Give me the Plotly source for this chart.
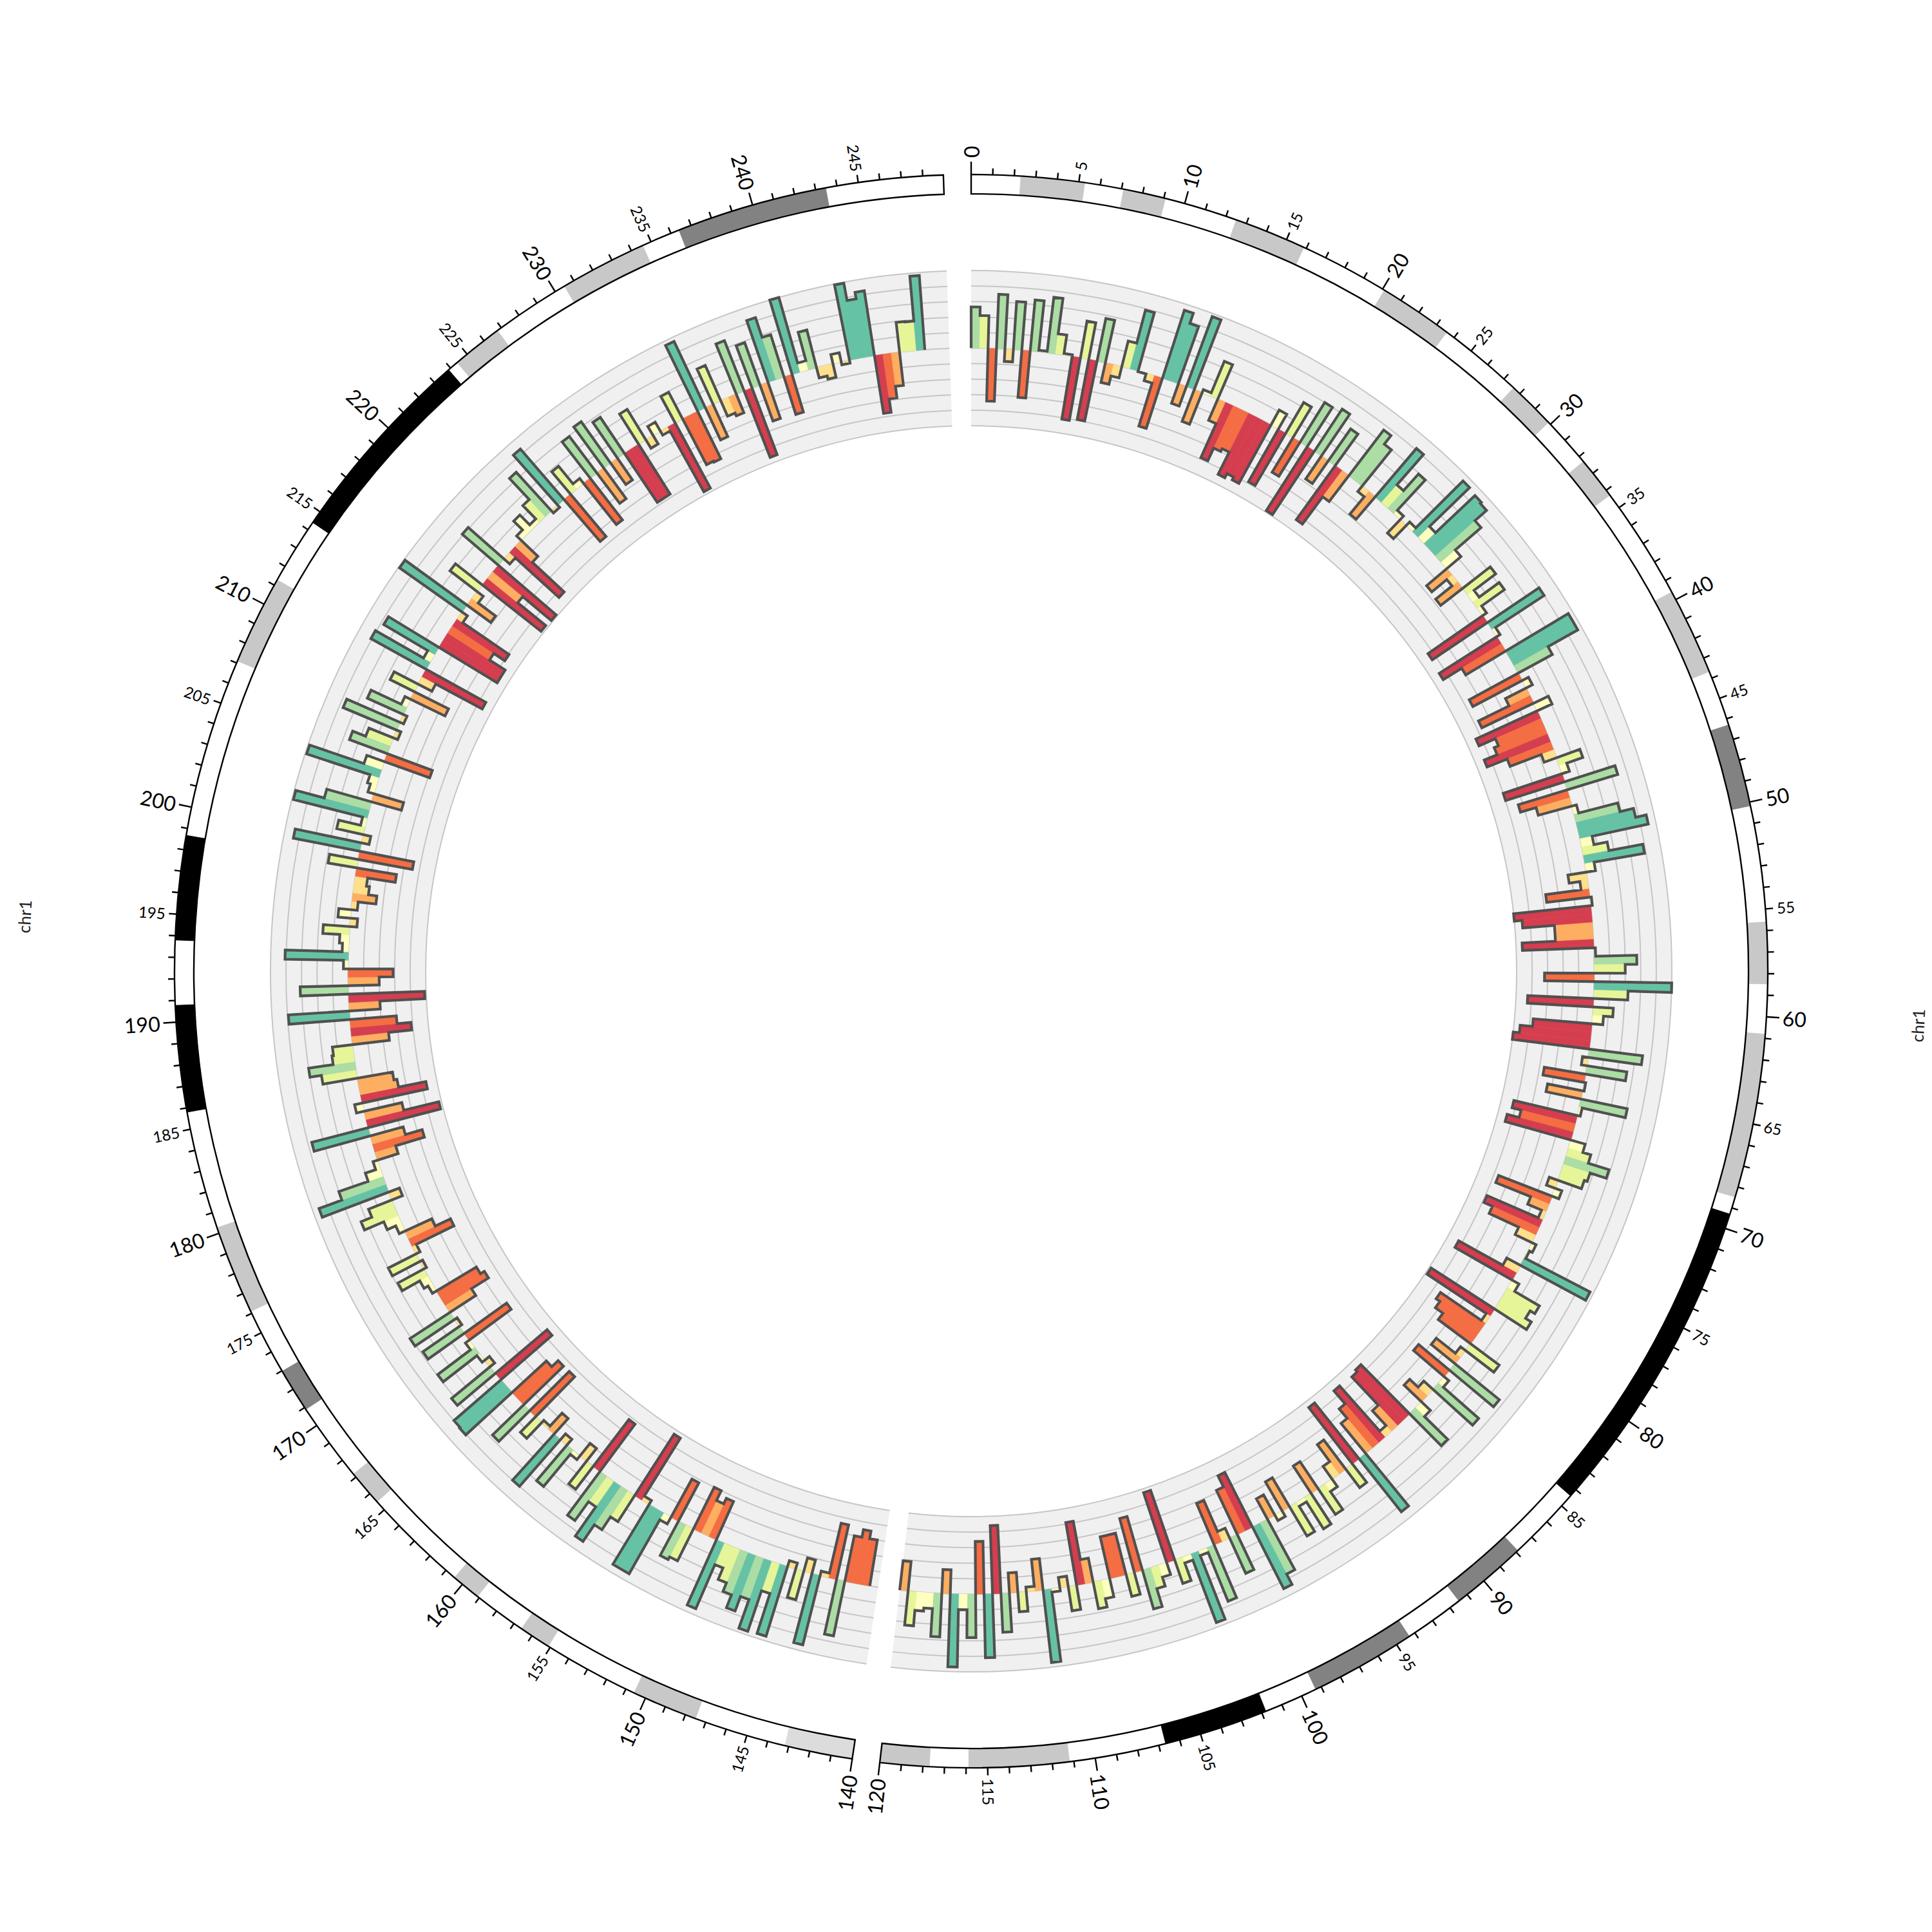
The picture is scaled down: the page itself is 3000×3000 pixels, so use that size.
import math
import plotly.graph_objects as go

# ---------------- data ----------------
chrom_name = "chr1"
seg_ranges = [(0.0, 120.0), (140.0, 248.956422)]
seg_data_start = [0.0, 140.5]      # first bin start of each segment's data
bin_size = 0.5
value_min, value_max = -5.0, 5.0

# values per 0.5 Mb bin, segment 1 (0-120 Mb), 10 bins (5 Mb) per row
seg1_values = [
    2.65, 2.1, -3.4, 3.5, -0.8, 3.1, -3.05, 3.3, 0.1, 3.6,
    1.3, 0.1, -4.1, 2.4, -3.95, 2.8, -1.3, -0.75, 1.7, 3.9,
    -0.05, -0.5, -3.4, 4.6, 3.9, -1.35, 4.8, -2.2, 0.2, 2.4,
    -1.5, -3.9, -3.0, -2.8, -4.4, -4.1, -4.3, 1.1, -3.9, 2.3,
    -2.6, 3.0, -4.9, 3.25, -1.8, 2.5, -4.3, -2.1, 3.7, 3.0,
    -0.45, -1.9, 4.1, 1.5, 2.95, 0.3, -1.2, 0.3, 4.6, 1.0,
    4.5, 4.4, 3.4, 1.2, -1.7, -0.45, -1.8, 2.25, 0.5, 2.1,
    0.3, -4.3, 4.0, 0.25, -4.4, -3.0, 4.7, 4.7, 2.5, -3.6,
    0.45, -1.5, -3.7, 1.05, -4.35, -3.2, -3.5, -4.4, -3.0, -0.85,
    1.6, 0.5, -4.0, 3.4, -3.3, -2.25, 0.3, 2.9, 3.8, 4.5,
    0.8, 1.67, 3.9, 0.6, -1.2, -0.5, -2.8, 0.1, -5.0, -4.5,
    -2.45, -2.45, -4.6, 0.1, 2.75, 2.0, -3.2, 5.0, 2.2, -4.25,
    1.3, 0.7, -3.8, -4.6, -5.0, 3.46, -0.37, 2.6, -2.7, 0.1,
    -2.3, 3.05, 0.2, -4.2, -3.6, -4.4, 0.96, 1.5, 2.9, 1.8,
    1.6, -0.6, 0.46, -3.7, -1.27, -0.3, -3.9, -3.3, -1.2, 0.3,
    0.1, 4.77, -1.0, -4.25, 0.5, 2.35, 2.0, 2.44, -4.87, -0.3,
    -3.5, -3.2, -2.6, 2.3, -0.4, -1.97, 3.68, -2.6, 0.4, 3.44,
    -0.8, -1.55, 0.8, 2.9, -4.46, -4.3, -1.8, -0.5, -4.4, -3.3,
    -2.5, 4.37, -4.6, 1.5, -2.35, -1.0, 0.6, 2.0, -2.1, 2.36,
    0.3, 2.2, -2.17, 0.4, -1.5, 3.7, 4.45, -3.95, -3.15, 2.5,
    -0.7, -2.9, 3.7, 0.3, 4.7, 0.4, 1.6, -4.75, 0.8, 1.4,
    2.6, -3.6, 1.45, -2.76, -2.76, 1.2, 1.75, -1.58, -4.1, 1.58,
    -0.68, 0.2, 4.7, -2.05, -0.3, 1.25, -1.3, 2.5, -4.4, 4.1,
    -3.4, 2.8, 1.0, 4.7, -1.55, 2.8, 1.0, 1.2, 2.2, -1.9,
]

# values per 0.5 Mb bin, segment 2 (data from 140.5 to 247.5 Mb)
seg2_values = [
    -3.0, -3.5, -3.0, 3.6, -3.6, -0.3, 4.6, -0.9, 1.9,
    -0.4, 4.7, 2.0, 4.76, 2.8, 3.8, 2.9, 2.3, 1.5, 4.6,
    -2.7, -2.3, -3.0, 2.3, 2.5, -2.8, 0.5, 4.5, 4.5, -0.3,
    -4.7, 2.0, 3.0, 4.3, 2.0, 3.5, -3.8, 1.85, -1.05, 0.3,
    3.0, -0.5, 4.0, -1.35, -0.2, 1.4, -3.6, 2.8, -3.57, -3.0,
    4.05, 4.0, -4.37, 3.2, -0.4, 0.2, 2.95, 0.3, -3.36, 2.86,
    -0.2, 3.07, -2.0, -3.3, -3.0, 0.3, 0.6, 1.9, -0.2, 2.0,
    -0.3, -3.0, -1.9, 0.4, 1.0, 2.35, 1.6, -0.75, 4.57, 3.0,
    1.0, 0.3, -1.4, -3.33, -2.2, 3.75, -4.83, -2.5, 0.5, -4.3,
    -2.5, -2.3, 2.25, 3.0, 1.4, 1.3, -2.4, -3.9, -3.0, 3.94,
    -2.0, -4.9, 3.1, -2.0, -2.9, 0.3, 4.07, 0.4, 0.6, 1.7,
    -0.47, 0.8, -0.4, -1.55, -1.0, -0.8, -2.6, 1.87, -3.55, 4.36,
    -0.5, 1.75, 0.3, 4.9, 3.0, -2.0, 0.4, 0.6, 4.9, 1.2,
    -3.1, 2.6, 1.7, -0.3, 3.74, -0.26, 2.55, 0.4, -2.47, 1.74,
    -1.0, -4.4, 4.07, 0.5, 3.8, -4.4, -4.4, -3.2, -4.05, -0.43,
    4.93, -1.9, -0.5, 2.2, -4.83, -2.5, -4.9, 3.07, -0.5, -4.3,
    -1.5, 0.4, 1.2, 0.3, 1.5, 3.36, -0.2, 4.3, -3.57, 1.87,
    0.4, -3.4, 2.95, -2.45, 3.27, -1.7, 2.8, -3.8, -3.8, 2.3,
    -0.64, 0.67, -0.3, -4.78, 1.94, -3.33, -3.4, 4.72, -2.3, 2.48,
    -1.1, -1.3, 3.48, -4.6, 2.9, -2.47, 4.2, 2.85, -2.54, 5.0,
    0.6, 2.5, -0.69, -0.9, 0.6, -0.2, 4.94, 3.8, 4.23, -3.77,
    -2.9, -2.15, 1.93, 1.9, 4.8,
]
seg_values = [seg1_values, seg2_values]

# cytobands of chr1 (Mb)
band_starts = [0.0, 2.3, 5.3, 7.1, 9.1, 12.5, 15.9, 20.1, 23.6, 27.6, 29.9, 32.3, 34.3, 39.6,
               43.7, 46.3, 50.2, 55.6, 58.5, 60.8, 68.5, 69.3, 84.4, 87.9, 91.5, 94.3, 99.3,
               101.8, 106.7, 111.2, 115.9, 117.7, 120.4, 121.7, 123.4, 125.1, 143.2, 147.5,
               150.6, 155.1, 156.6, 159.1, 160.5, 165.5, 167.2, 170.9, 173.0, 176.1, 180.3,
               185.8, 190.8, 193.8, 198.7, 207.1, 211.3, 214.4, 223.9, 224.4, 226.8, 230.5,
               234.6, 236.4, 243.5]
band_ends = band_starts[1:] + [248.956422]
band_stains = ["gneg", "gpos25", "gneg", "gpos25", "gneg", "gpos50", "gneg", "gpos25", "gneg",
               "gpos25", "gneg", "gpos25", "gneg", "gpos25", "gneg", "gpos75", "gneg", "gpos50",
               "gneg", "gpos50", "gneg", "gpos100", "gneg", "gpos75", "gneg", "gpos75", "gneg",
               "gpos100", "gneg", "gpos50", "gneg", "gpos50", "gneg", "acen", "acen", "gvar",
               "gneg", "gpos50", "gneg", "gpos50", "gneg", "gpos50", "gneg", "gpos50", "gneg",
               "gpos75", "gneg", "gpos50", "gneg", "gpos100", "gneg", "gpos100", "gneg",
               "gpos25", "gneg", "gpos100", "gneg", "gpos25", "gneg", "gpos50", "gneg",
               "gpos75", "gneg"]

# ---------------- styles / geometry ----------------
stain_colors = {"gneg": "#FFFFFF", "gpos25": "#C8C8C8", "gpos50": "#C8C8C8",
                "gpos75": "#828282", "gpos100": "#000000", "gvar": "#DCDCDC",
                "acen": "#D92F27"}
spectral = ["#d53e4f", "#f46d43", "#fdae61", "#fee08b", "#ffffbf", "#e6f598", "#abdda4", "#66c2a5"]
FONT = "Lato"
FIG = 3000
SPACE = 2.0
R_TRACK_IN, R_TRACK_OUT = 847.0, 1088.0
R_RING_IN, R_RING_OUT = 1207.0, 1237.0
UNIT = (R_TRACK_OUT - R_TRACK_IN) / (value_max - value_min)
R_BASE = R_TRACK_IN - value_min * UNIT
OUTLINE = "#505050"

total_len = sum(e - s for s, e in seg_ranges)
DPM = (360.0 - SPACE * len(seg_ranges)) / total_len
seg_theta0 = []
_t = 0.0
for s, e in seg_ranges:
    seg_theta0.append(_t)
    _t += (e - s) * DPM + SPACE


def theta(i, pos):
    return seg_theta0[i] + (pos - seg_ranges[i][0]) * DPM


def seg_span(i):
    s, e = seg_ranges[i]
    return theta(i, (s + e) / 2), (e - s) * DPM


n_col = len(spectral)
colorscale = []
for k, c in enumerate(spectral):
    colorscale.append([k / n_col, c])
    colorscale.append([(k + 1) / n_col, c])

fig = go.Figure()

# track background
fig.add_trace(go.Barpolar(
    theta=[seg_span(i)[0] for i in range(2)], width=[seg_span(i)[1] for i in range(2)],
    base=[R_TRACK_IN] * 2, r=[R_TRACK_OUT - R_TRACK_IN] * 2,
    marker=dict(color="#f0f0f0", line=dict(width=0)), hoverinfo="skip"))

# grid rings
g_th, g_w, g_b, g_r = [], [], [], []
for i in range(2):
    c, w = seg_span(i)
    for k in range(int(value_max - value_min) + 1):
        rr = R_TRACK_IN + k * UNIT
        g_th.append(c); g_w.append(w); g_b.append(rr - 1.0); g_r.append(2.0)
fig.add_trace(go.Barpolar(theta=g_th, width=g_w, base=g_b, r=g_r,
                          marker=dict(color="#c6c6c6", line=dict(width=0)), hoverinfo="skip"))

# data bars + step outline
for i, vals in enumerate(seg_values):
    s, e = seg_ranges[i]
    d0 = seg_data_start[i]
    th, wd, bs, rs = [], [], [], []
    o_th, o_r = [theta(i, d0)], [R_BASE]
    for k, v in enumerate(vals):
        a = d0 + k * bin_size
        b = min(a + bin_size, e)
        th.append(theta(i, (a + b) / 2))
        wd.append((b - a) * DPM)
        bs.append(R_BASE + min(v, 0) * UNIT)
        rs.append(abs(v) * UNIT)
        o_th += [theta(i, a), theta(i, b)]
        o_r += [R_BASE + v * UNIT] * 2
    o_th.append(theta(i, min(d0 + len(vals) * bin_size, e)))
    o_r.append(R_BASE)
    fig.add_trace(go.Barpolar(
        theta=th, width=wd, base=bs, r=rs,
        marker=dict(color=vals, colorscale=colorscale, cmin=value_min, cmax=value_max,
                    line=dict(width=0.6, color=vals, colorscale=colorscale,
                              cmin=value_min, cmax=value_max)),
        hoverinfo="skip"))
    fig.add_trace(go.Scatterpolar(theta=o_th, r=o_r, mode="lines",
                                  line=dict(color=OUTLINE, width=4.2), hoverinfo="skip"))

# ideogram bands
b_th, b_w, b_c = [], [], []
for i in range(2):
    s, e = seg_ranges[i]
    for bs_, be_, st in zip(band_starts, band_ends, band_stains):
        a, b = max(bs_, s), min(be_, e)
        if b <= a:
            continue
        b_th.append(theta(i, (a + b) / 2)); b_w.append((b - a) * DPM); b_c.append(stain_colors[st])
fig.add_trace(go.Barpolar(theta=b_th, width=b_w, base=[R_RING_IN] * len(b_th),
                          r=[R_RING_OUT - R_RING_IN] * len(b_th),
                          marker=dict(color=b_c, line=dict(width=0.8, color=b_c)), hoverinfo="skip"))
fig.add_trace(go.Barpolar(theta=[seg_span(i)[0] for i in range(2)], width=[seg_span(i)[1] for i in range(2)],
                          base=[R_RING_IN] * 2, r=[R_RING_OUT - R_RING_IN] * 2,
                          marker=dict(color="rgba(0,0,0,0)", line=dict(width=2.4, color="black")),
                          hoverinfo="skip"))

# ticks and labels
t_th, t_r = [], []
annotations = []


def tick_len(m):
    return 20 if m % 10 == 0 else (12 if m % 5 == 0 else 10)


for i in range(2):
    s, e = seg_ranges[i]
    for m in range(int(math.ceil(s)), int(math.floor(e)) + 1):
        a = theta(i, m)
        L = tick_len(m)
        t_th += [a, a, None]
        t_r += [R_RING_OUT, R_RING_OUT + L, None]
        if m % 5 == 0:
            size = 32 if m % 10 == 0 else 24
            txt = str(m)
            w = len(txt) * 0.56 * size
            rc = R_RING_OUT + L + 6 + w / 2
            tangle = a - 90 if a <= 180 else a - 270
            x = 0.5 + rc * math.sin(math.radians(a)) / FIG
            y = 0.5 + rc * math.cos(math.radians(a)) / FIG
            annotations.append(dict(x=x, y=y, xref="paper", yref="paper", text=txt, showarrow=False,
                                    textangle=tangle, xanchor="center", yanchor="middle",
                                    font=dict(family=FONT, size=size, color="black")))
fig.add_trace(go.Scatterpolar(theta=t_th, r=t_r, mode="lines", line=dict(color="black", width=2.4),
                              hoverinfo="skip", connectgaps=False))

# sector labels
for i in range(2):
    a = seg_span(i)[0]
    rot = 180 - a if 90 < a < 270 else -a
    tangle = -rot
    while tangle > 180:
        tangle -= 360
    while tangle < -180:
        tangle += 360
    rc = 1472
    annotations.append(dict(x=0.5 + rc * math.sin(math.radians(a)) / FIG,
                            y=0.5 + rc * math.cos(math.radians(a)) / FIG,
                            xref="paper", yref="paper", text=chrom_name, showarrow=False,
                            textangle=tangle, xanchor="center", yanchor="middle",
                            font=dict(family=FONT, size=26, color="#222222")))

fig.update_layout(
    width=FIG, height=FIG, margin=dict(l=0, r=0, t=0, b=0),
    paper_bgcolor="white", showlegend=False,
    polar=dict(domain=dict(x=[0, 1], y=[0, 1]), bgcolor="white", barmode="overlay",
               radialaxis=dict(visible=False, range=[0, FIG / 2]),
               angularaxis=dict(visible=False, rotation=90, direction="clockwise")),
    annotations=annotations,
)
fig.write_html("out.html")
